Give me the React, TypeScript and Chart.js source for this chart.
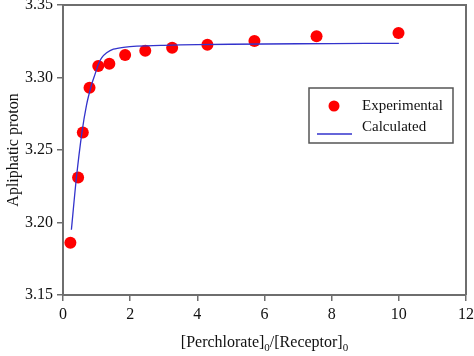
import React, { useEffect, useRef } from "react";
import { Chart, registerables } from "chart.js";

Chart.register(...registerables);

const xExperimental = [0.22, 0.45, 0.59, 0.79, 1.05, 1.38, 1.85, 2.45, 3.25, 4.3, 5.7, 7.55, 9.99];
const yExperimental = [3.186, 3.231, 3.262, 3.293, 3.308, 3.3095, 3.3155, 3.3185, 3.3205, 3.3226, 3.3252, 3.3284, 3.3307];

const xCalculated = [0.25, 0.4, 0.56, 0.7, 0.85, 0.95, 1.05, 1.15, 1.3, 1.5, 1.8, 2.2, 3, 4, 6, 8, 10];
const yCalculated = [3.195, 3.231, 3.2615, 3.281, 3.295, 3.302, 3.309, 3.3135, 3.317, 3.3195, 3.3208, 3.3216, 3.3222, 3.3227, 3.3231, 3.3234, 3.3236];

const xTicks = [0, 2, 4, 6, 8, 10, 12];
const yTicks = [3.15, 3.2, 3.25, 3.3, 3.35];

const legendLabels = ["Experimental", "Calculated"];
const xTitleParts = ["[Perchlorate]", "0", "/[Receptor]", "0"];
const yTitle = "Apliphatic proton";

const FONT = "'Liberation Serif', 'Times New Roman', serif";
const AXIS_COLOR = "#6e6e6e";

const overlayPlugin = {
  id: "overlay",
  afterDraw(chart: any) {
    const { ctx, chartArea } = chart;
    const { left, right, top, bottom } = chartArea;
    ctx.save();
    // frame
    ctx.strokeStyle = AXIS_COLOR;
    ctx.lineWidth = 2;
    ctx.beginPath();
    ctx.moveTo(left, top);
    ctx.lineTo(right, top);
    ctx.lineTo(right, bottom);
    ctx.stroke();

    // legend
    const lx = 309, ly = 88, lw = 144, lh = 55;
    ctx.fillStyle = "#ffffff";
    ctx.fillRect(lx, ly, lw, lh);
    ctx.strokeStyle = "#555555";
    ctx.lineWidth = 1.5;
    ctx.strokeRect(lx, ly, lw, lh);
    ctx.fillStyle = "#ff0000";
    ctx.beginPath();
    ctx.arc(334, 106, 5.5, 0, Math.PI * 2);
    ctx.fill();
    ctx.strokeStyle = "#3333cc";
    ctx.lineWidth = 1.3;
    ctx.beginPath();
    ctx.moveTo(317, 134);
    ctx.lineTo(352, 134);
    ctx.stroke();
    ctx.fillStyle = "#111111";
    ctx.font = `15px ${FONT}`;
    ctx.textBaseline = "middle";
    ctx.textAlign = "left";
    ctx.fillText(legendLabels[0], 362, 106);
    ctx.fillText(legendLabels[1], 362, 127);

    // x title with subscripts
    const big = `16px ${FONT}`;
    const small = `11px ${FONT}`;
    const widths = xTitleParts.map((t, i) => {
      ctx.font = i % 2 === 1 ? small : big;
      return ctx.measureText(t).width;
    });
    const total = widths.reduce((a, b) => a + b, 0);
    let x = (left + right) / 2 - total / 2;
    const baseY = 347;
    ctx.textBaseline = "alphabetic";
    xTitleParts.forEach((t, i) => {
      const sub = i % 2 === 1;
      ctx.font = sub ? small : big;
      ctx.fillText(t, x, sub ? baseY + 4 : baseY);
      x += widths[i];
    });

    // y title
    ctx.save();
    ctx.translate(14, (top + bottom) / 2);
    ctx.rotate(-Math.PI / 2);
    ctx.font = `16px ${FONT}`;
    ctx.textAlign = "center";
    ctx.textBaseline = "middle";
    ctx.fillText(yTitle, 0, 0);
    ctx.restore();

    ctx.restore();
  },
};

export default function App() {
  const ref = useRef<HTMLCanvasElement | null>(null);
  useEffect(() => {
    document.body.style.margin = "0";
    const canvas = ref.current!;
    const chart = new Chart(canvas, {
      type: "scatter",
      data: {
        datasets: [
          {
            label: legendLabels[1],
            data: xCalculated.map((x, i) => ({ x, y: yCalculated[i] })),
            showLine: true,
            borderColor: "#3333cc",
            borderWidth: 1.3,
            pointRadius: 0,
            tension: 0.3,
            fill: false,
          },
          {
            label: legendLabels[0],
            data: xExperimental.map((x, i) => ({ x, y: yExperimental[i] })),
            backgroundColor: "#ff0000",
            borderColor: "#ff0000",
            pointRadius: 6,
            pointBorderWidth: 0,
            showLine: false,
          },
        ],
      },
      options: {
        animation: false,
        responsive: false,
        devicePixelRatio: 1,
        layout: { autoPadding: false, padding: { top: 5, right: 8, left: 0, bottom: 0 } },
        plugins: { legend: { display: false }, tooltip: { enabled: false } },
        scales: {
          x: {
            type: "linear",
            min: 0,
            max: 12,
            afterBuildTicks: (s: any) => {
              s.ticks = xTicks.map((v) => ({ value: v }));
            },
            afterFit: (s: any) => {
              s.height = 61;
              s.paddingLeft = 0;
              s.paddingRight = 0;
            },
            grid: { drawOnChartArea: false, drawTicks: true, tickLength: 6, color: AXIS_COLOR, lineWidth: 1.5 },
            border: { display: true, color: AXIS_COLOR, width: 2 },
            ticks: {
              font: { family: FONT, size: 16 },
              color: "#111111",
              padding: 4,
              maxRotation: 0,
              callback: (v: any) => String(v),
            },
          },
          y: {
            type: "linear",
            min: 3.15,
            max: 3.35,
            afterBuildTicks: (s: any) => {
              s.ticks = yTicks.map((v) => ({ value: v }));
            },
            afterFit: (s: any) => {
              s.width = 63;
              s.paddingTop = 0;
              s.paddingBottom = 0;
            },
            grid: { drawOnChartArea: false, drawTicks: true, tickLength: 6, color: AXIS_COLOR, lineWidth: 1.5 },
            border: { display: true, color: AXIS_COLOR, width: 2 },
            ticks: {
              font: { family: FONT, size: 16 },
              color: "#111111",
              padding: 4,
              callback: (v: any) => Number(v).toFixed(2),
            },
          },
        },
      },
      plugins: [overlayPlugin],
    });
    return () => chart.destroy();
  }, []);
  return (
    <div style={{ width: 474, height: 356, background: "#fff" }}>
      <canvas ref={ref} width={474} height={356} style={{ display: "block" }} />
    </div>
  );
}
